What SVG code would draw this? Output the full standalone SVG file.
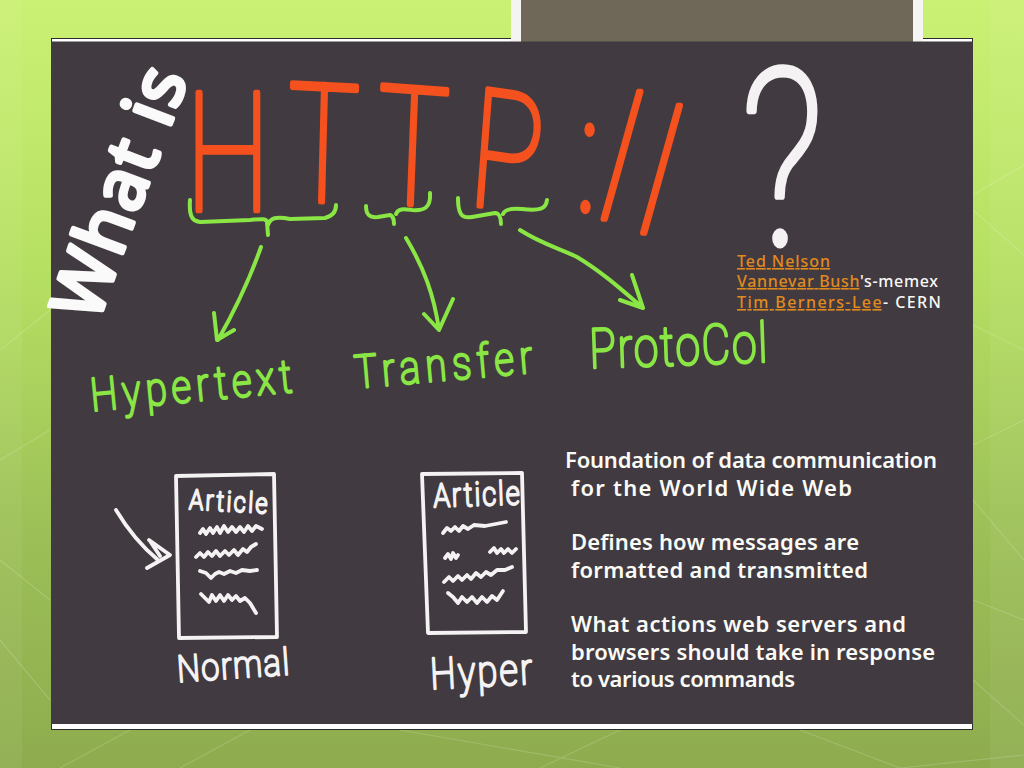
<svg xmlns="http://www.w3.org/2000/svg" width="1024" height="768" viewBox="0 0 1024 768">
<style>
text{font-family:"Noto Sans","Liberation Sans",sans-serif}
.hw{font-family:Roboto,"Liberation Sans",sans-serif;font-weight:100;text-anchor:middle;font-size:100px;stroke-linejoin:round;stroke-linecap:round}
.red{fill:#f4511e;stroke:#f4511e;stroke-width:3.300}
.wh{fill:#f5f2f3;stroke:#f5f2f3;stroke-width:2.800}
.gt{font-family:Roboto,"Liberation Sans",sans-serif;font-weight:100;fill:#8ae645;stroke:#8ae645;stroke-width:2.400;stroke-linejoin:round}
.wt{font-family:Roboto,"Liberation Sans",sans-serif;font-weight:100;fill:#f5f2f3;stroke:#f5f2f3;stroke-width:2.200;stroke-linejoin:round}
.g{fill:none;stroke:#8ae645;stroke-width:4;stroke-linecap:round;stroke-linejoin:round}
.w{fill:none;stroke:#f5f2f3;stroke-width:3.800;stroke-linecap:round;stroke-linejoin:round}
.body{fill:#fbfbf6;font-size:22px;font-weight:600}
.ref{font-size:16px;font-weight:500}
.link{fill:#e08a1e;text-decoration:underline}
.plain{fill:#f8f8f8}
.lines{fill:none;stroke:#fff;stroke-opacity:.16;stroke-width:1.2}
</style>
<defs>
<linearGradient id="bg" x1="0" y1="0" x2="0" y2="1">
<stop offset="0" stop-color="#cbf174"/><stop offset=".35" stop-color="#b6e062"/><stop offset=".7" stop-color="#9cbf57"/><stop offset="1" stop-color="#8eac4e"/>
</linearGradient>
<path id="whatpath" d="M98 324C114 272 146 190 214 10"/>
</defs>
<g id="background">
<rect width="1024" height="768" fill="url(#bg)"/>
<rect x="0" width="22" height="768" fill="#fff" opacity=".05"/>
<rect x="990" width="34" height="768" fill="#fff" opacity=".05"/>
<path class="lines" d="M973 195L1024 165M973 325L1024 350M973 210L1024 255M973 445L1024 420M973 500L1024 560M973 600L1024 620M0 350L50 310M0 460L50 430M0 560L50 600M0 640L50 700M60 768L130 730M250 730L180 768M400 730L620 768M620 730L540 768M800 730L900 768M900 768L1024 755M973 680L1024 725"/>
</g>
<g id="panel">
<rect x="51.500" y="38.500" width="921" height="691" fill="#fff" stroke="#2b2b2b"/>
<rect x="51" y="42" width="922" height="682" fill="#413a40"/>
</g>
<g id="top-picture">
<rect x="511" y="-2" width="412" height="44" fill="#f4f4f2"/>
<rect x="521" y="-2" width="392" height="44" fill="#6f6858"/>
<rect x="51" y="41.500" width="922" height="2" fill="#413a40"/>
</g>
<g id="what-is"><text font-family="Lato" font-weight="400" font-size="72" fill="#fbfafa" stroke="#fbfafa" stroke-width="4.500" stroke-linejoin="round" letter-spacing="2"><textPath href="#whatpath">What is</textPath></text></g>
<g id="http">
<text class="hw red" transform="scale(1.2 1.65)" x="190 268 342 419 488 519 552" y="127.300 121.200 122.400 123.600 127.300 126.700 135" rotate="0 2 3 6 4 0 0">HTTP://</text>
</g>
<g id="question"><text class="hw wh" transform="translate(782 244) scale(1.9 2.45)">?</text></g>
<g id="connectors">
<path class="g" d="M190 200C189 214 191 221 200 222L250 220C262 219 266 218 267 222L268 235M268 225C270 218 276 216 290 219L325 218C333 216 336 211 336 205"/>
<path class="g" d="M366 206C366 214 369 218 378 217L390 215C393 216 394 219 394 224M396 214C398 208 404 209 412 210C424 211 431 208 430 193"/>
<path class="g" d="M458 198C458 213 461 219 472 217L495 213C499 213 501 218 501 224M503 214C505 209 512 208 522 209C540 211 546 209 547 200"/>
<path class="g" d="M261 247C249 281 235 310 218 340M214 313L217 340L234 330"/>
<path class="g" d="M406 238C424 268 434 295 439 330M424 314L439 330L453 299"/>
<path class="g" d="M520 230C540 243 558 248 577 257C602 272 622 290 643 308M632 275L643 308L620 300"/>
<path class="w" d="M116 510C128 530 140 545 158 560M149 540L170 555L147 568M150 541L160 556"/>
</g>
<g id="label-hypertext"><text class="gt" transform="translate(92 411) rotate(-5.500) scale(1 1.2)" font-size="38" textLength="202" lengthAdjust="spacing">Hypertext</text></g>
<g id="label-transfer"><text class="gt" transform="translate(356 388) rotate(-5) scale(1 1.2)" font-size="38" textLength="178" lengthAdjust="spacing">Transfer</text></g>
<g id="label-protocol"><text class="gt" transform="translate(590 368) rotate(-2) scale(1 1.25)" font-size="44" textLength="178" lengthAdjust="spacing">ProtoCol</text></g>
<g id="people">
<text class="ref" x="737" y="267" textLength="93"><tspan class="link">Ted Nelson</tspan></text>
<text class="ref plain" x="737" y="287" textLength="201"><tspan class="link">Vannevar Bush</tspan>'s-memex</text>
<text class="ref plain" x="737" y="308" textLength="204"><tspan class="link">Tim Berners-Lee</tspan>- CERN</text>
</g>
<g id="article-normal">
<path class="w" d="M176 476L274 474L277 637L179 638Z"/>
<text class="wt" transform="translate(189 509) rotate(3) scale(1 1.2)" font-size="23" textLength="78">Article</text>
<path class="w" d="M200 533L203 529L206 534L210 528L213 533L217 527L220 533L224 526L228 532L232 527L236 532L240 527L244 532L248 526L252 531L256 526L262 529"/>
<path class="w" d="M196 557L200 553L204 557L208 552L212 556L216 551L220 556L225 551L229 555L234 550L238 555L243 549L247 552L251 547L256 544"/>
<path class="w" d="M200 571L206 573L211 578L215 574L219 572L224 574L230 571L236 573L242 570L250 571L257 570"/>
<path class="w" d="M201 594L205 598L209 602L212 595L216 601L220 595L224 601L228 595L232 600L236 596L240 601L245 598L250 603L256 613"/>
<text class="wt" transform="translate(178 682) rotate(-4) scale(1 1.15)" font-size="32" textLength="112">Normal</text>
</g>
<g id="article-hyper">
<path class="w" d="M422 474L522 473L526 632L428 633Z"/>
<text class="wt" transform="translate(434 507) rotate(-2) scale(1 1.2)" font-size="27" textLength="86">Article</text>
<path class="w" d="M443 533L447 528L451 531L455 527L459 531L463 526L468 529L474 525L485 526L506 522"/>
<path class="w" d="M445 558L448 554L451 559L453 553L456 558L458 555M490 552L494 548L497 553L501 549L504 553L508 549L512 553L516 549"/>
<path class="w" d="M444 582L449 577L453 581L458 576L462 580L467 575L471 579L476 573L481 577L486 572L491 575L497 570L505 570L512 567"/>
<path class="w" d="M448 593L453 597L458 603L462 597L467 602L472 597L477 603L482 597L487 602L492 596L497 600L503 591"/>
<text class="wt" transform="translate(431 689) rotate(-3) scale(1 1.2)" font-size="36" textLength="102">Hyper</text>
</g>
<g id="description">
<text class="body" x="565" y="468" textLength="372">Foundation of data communication</text>
<text class="body" x="571" y="496" textLength="281">for the World Wide Web</text>
<text class="body" x="571" y="550" textLength="288">Defines how messages are</text>
<text class="body" x="571" y="578" textLength="297">formatted and transmitted</text>
<text class="body" x="571" y="632" textLength="335">What actions web servers and</text>
<text class="body" x="571" y="660" textLength="364">browsers should take in response</text>
<text class="body" x="571" y="687" textLength="224">to various commands</text>
</g>
</svg>
